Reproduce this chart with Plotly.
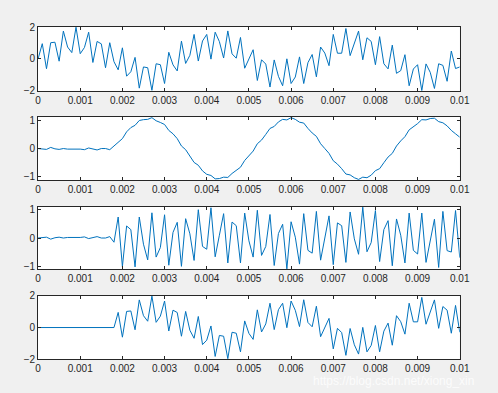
import plotly.graph_objects as go

# time axis (s), 10 kHz sampling
t = [0.0000, 0.0001, 0.0002, 0.0003, 0.0004, 0.0005, 0.0006, 0.0007, 0.0008, 0.0009,
     0.0010, 0.0011, 0.0012, 0.0013, 0.0014, 0.0015, 0.0016, 0.0017, 0.0018, 0.0019,
     0.0020, 0.0021, 0.0022, 0.0023, 0.0024, 0.0025, 0.0026, 0.0027, 0.0028, 0.0029,
     0.0030, 0.0031, 0.0032, 0.0033, 0.0034, 0.0035, 0.0036, 0.0037, 0.0038, 0.0039,
     0.0040, 0.0041, 0.0042, 0.0043, 0.0044, 0.0045, 0.0046, 0.0047, 0.0048, 0.0049,
     0.0050, 0.0051, 0.0052, 0.0053, 0.0054, 0.0055, 0.0056, 0.0057, 0.0058, 0.0059,
     0.0060, 0.0061, 0.0062, 0.0063, 0.0064, 0.0065, 0.0066, 0.0067, 0.0068, 0.0069,
     0.0070, 0.0071, 0.0072, 0.0073, 0.0074, 0.0075, 0.0076, 0.0077, 0.0078, 0.0079,
     0.0080, 0.0081, 0.0082, 0.0083, 0.0084, 0.0085, 0.0086, 0.0087, 0.0088, 0.0089,
     0.0090, 0.0091, 0.0092, 0.0093, 0.0094, 0.0095, 0.0096, 0.0097, 0.0098, 0.0099,
     0.0100]

# input signal
signal_in = [0.00, 0.96, -0.61, 1.02, 1.05, -0.14, 1.75, 0.75, 0.40, 1.99,
             0.33, 0.72, 1.68, -0.22, 1.10, 0.95, -0.55, 1.02, -0.17, -0.68,
             0.70, -1.08, -0.80, 0.10, -1.83, -0.50, -0.55, -1.97, -0.30, -0.36,
             -1.54, 0.42, -0.37, -0.75, 1.12, -0.28, 0.23, 1.54, -0.13, 1.13,
             1.54, -0.01, 1.68, 1.09, 0.06, 1.76, 0.32, 0.05, 1.35, -0.58,
             0.00, 0.58, -1.35, -0.05, -0.32, -1.76, -0.06, -1.09, -1.68, 0.01,
             -1.54, -1.13, 0.13, -1.54, -0.23, 0.28, -1.12, 0.75, 0.37, -0.42,
             1.54, 0.36, 0.36, 1.91, 0.21, 1.00, 1.75, -0.05, 1.33, 1.10,
             -0.36, 1.40, -0.30, -0.62, 0.87, -0.90, -0.73, 0.27, -1.68, -0.63,
             -0.36, -1.99, -0.31, -0.84, -1.85, -0.30, -0.40, -1.40, 0.50, -0.60,
             -0.50]

# low-pass output
lowpass_out = [0.00, -0.02, -0.03, 0.04, -0.01, -0.03, 0.00, -0.02, -0.01, -0.02,
               -0.02, -0.04, 0.02, -0.01, -0.05, 0.00, 0.00, -0.04, 0.10, 0.23,
               0.35, 0.59, 0.74, 0.82, 0.99, 1.02, 1.03, 1.09, 0.98, 0.92,
               0.85, 0.64, 0.52, 0.35, 0.09, -0.04, -0.26, -0.49, -0.59, -0.79,
               -0.91, -0.95, -1.07, -1.06, -1.01, -1.02, -0.88, -0.76, -0.66, -0.42,
               -0.27, -0.09, 0.17, 0.30, 0.50, 0.71, 0.78, 0.94, 1.03, 1.01,
               1.09, 1.03, 0.93, 0.90, 0.71, 0.55, 0.43, 0.17, 0.00, -0.17,
               -0.43, -0.55, -0.71, -0.90, -0.93, -1.03, -1.09, -1.01, -1.03, -0.94,
               -0.78, -0.71, -0.50, -0.30, -0.17, 0.09, 0.27, 0.42, 0.66, 0.76,
               0.88, 1.02, 1.01, 1.06, 1.07, 0.95, 0.91, 0.80, 0.64, 0.52,
               0.40]

# high-pass output
highpass_out = [0.00, 0.02, 0.03, -0.04, 0.01, 0.03, 0.00, 0.02, 0.01, 0.02,
                0.02, 0.04, -0.02, 0.01, 0.05, 0.00, 0.00, 0.05, -0.15, 0.75,
                -1.02, 0.43, 0.30, -1.03, 0.75, -0.22, -0.78, 0.90, -0.68, -0.34,
                0.83, -0.97, 0.20, 0.56, -1.01, 0.69, 0.15, -0.80, 1.01, -0.30,
                -0.40, 1.08, -0.67, 0.10, 0.87, -0.89, 0.57, 0.44, -0.89, 0.89,
                -0.10, -0.68, 0.99, -0.62, -0.30, 0.84, -0.98, 0.16, 0.49, -1.10,
                0.58, 0.03, -0.93, 0.87, -0.44, -0.54, 0.95, -0.79, 0.00, 0.79,
                -0.95, 0.54, 0.44, -0.87, 0.93, -0.03, -0.58, 1.10, -0.49, -0.16,
                0.98, -0.84, 0.30, 0.62, -0.99, 0.68, 0.10, -0.89, 0.89, -0.44,
                -0.57, 0.89, -0.87, -0.10, 0.67, -1.05, 0.95, -0.45, -0.50, 0.98,
                -0.70]

# reconstructed (sum) output
sum_out = [0.00, 0.00, 0.00, 0.00, 0.00, 0.00, 0.00, 0.00, 0.00, 0.00,
           0.00, 0.00, 0.00, 0.00, 0.00, 0.00, 0.00, 0.00, 0.00, 0.96,
           -0.61, 1.02, 1.05, -0.14, 1.75, 0.75, 0.40, 1.99, 0.33, 0.72,
           1.68, -0.22, 1.10, 0.95, -0.55, 1.02, -0.17, -0.68, 0.70, -1.08,
           -0.80, 0.10, -1.83, -0.50, -0.55, -1.97, -0.30, -0.36, -1.54, 0.42,
           -0.37, -0.75, 1.12, -0.28, 0.23, 1.54, -0.13, 1.13, 1.54, -0.01,
           1.68, 1.09, 0.06, 1.76, 0.32, 0.05, 1.35, -0.58, 0.00, 0.58,
           -1.35, -0.05, -0.32, -1.76, -0.06, -1.09, -1.68, 0.01, -1.54, -1.13,
           0.13, -1.54, -0.23, 0.28, -1.12, 0.75, 0.37, -0.42, 1.54, 0.36,
           0.36, 1.91, 0.21, 1.00, 1.75, -0.05, 1.33, 1.10, -0.36, 1.40,
           -0.30]

x_tick_vals = [0, 0.001, 0.002, 0.003, 0.004, 0.005, 0.006, 0.007, 0.008, 0.009, 0.01]
x_tick_text = ["0", "0.001", "0.002", "0.003", "0.004", "0.005", "0.006", "0.007", "0.008", "0.009", "0.01"]
y_ticks_big = [-2, 0, 2]
y_ticks_small = [-1, 0, 1]

series = [signal_in, lowpass_out, highpass_out, sum_out]
yticks = [y_ticks_big, y_ticks_small, y_ticks_small, y_ticks_big]
yranges = [[-2, 2],
           [min(lowpass_out) - 0.02, max(lowpass_out) + 0.02],
           [min(highpass_out) - 0.02, max(highpass_out) + 0.01],
           [-2, 2]]

# pixel layout of the 498x393 figure (top, bottom of each axes box)
W, H = 498, 393
boxes = [(21.7, 87.3), (114.3, 179.0), (206.7, 271.0), (298.3, 363.3)]
x_left, x_right = 36, 469

AX = "#262626"
LINE = "#0072BD"
FONT = "Liberation Sans, Arial, Helvetica, sans-serif"

fig = go.Figure()
layout = dict(
    width=W, height=H,
    paper_bgcolor="#F0F0F0", plot_bgcolor="#FFFFFF",
    margin=dict(l=0, r=0, t=0, b=0, pad=0),
    showlegend=False,
    font=dict(family=FONT, size=10, color=AX),
)

for i, (ys, yt, yr, (top, bot)) in enumerate(zip(series, yticks, yranges, boxes)):
    k = "" if i == 0 else str(i + 1)
    fig.add_trace(go.Scatter(x=t, y=ys, mode="lines",
                             line=dict(color=LINE, width=1),
                             xaxis="x" + k, yaxis="y" + k, hoverinfo="skip"))
    layout["xaxis" + k] = dict(
        domain=[x_left / W, x_right / W], range=[0, 0.01], anchor="y" + k,
        tickvals=x_tick_vals, ticktext=x_tick_text,
        ticks="inside", ticklen=3, tickwidth=1, tickcolor=AX,
        showline=True, linecolor=AX, linewidth=1, mirror="ticks",
        showgrid=False, zeroline=False,
        tickfont=dict(family=FONT, size=10, color=AX),
    )
    layout["yaxis" + k] = dict(
        domain=[1 - bot / H, 1 - top / H], range=yr, anchor="x" + k,
        tickvals=yt, ticks="inside", ticklen=3, tickwidth=1, tickcolor=AX,
        showline=True, linecolor=AX, linewidth=1, mirror="ticks",
        showgrid=False, zeroline=False,
        tickfont=dict(family=FONT, size=10, color=AX),
    )

layout["annotations"] = [dict(
    text="https://blog.csdn.net/xiong_xin", xref="paper", yref="paper",
    x=0.975, y=1 - 386 / H, xanchor="right", yanchor="middle", showarrow=False,
    font=dict(family=FONT, size=12, color="rgba(255,255,255,0.8)"),
)]

fig.update_layout(**layout)
fig.write_html("out.html", config={"displayModeBar": False},
               post_script="document.body.style.margin='0';document.body.style.padding='0';")
